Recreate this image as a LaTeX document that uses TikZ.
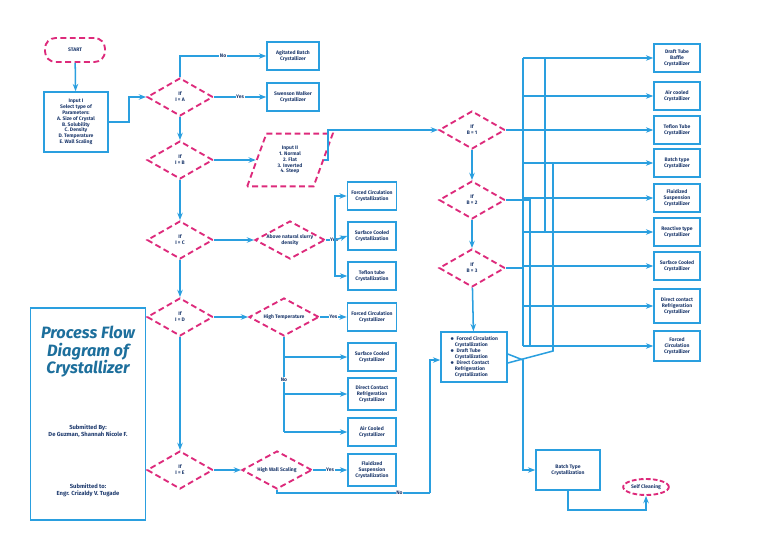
\documentclass[tikz,border=0pt]{standalone}
\usepackage{fontspec}
\setmainfont{Fira Sans}
\usetikzlibrary{shapes.geometric, arrows.meta, calc}
\definecolor{flowblue}{HTML}{2A9FDF}
\definecolor{flowpink}{HTML}{DD2A7B}
\definecolor{flowtext}{HTML}{1F3B6E}

\begin{document}
\begin{tikzpicture}[x=0.03cm, y=-0.03cm,
  box/.style={draw=flowblue, line width=1.3pt, fill=white, minimum width=#1*0.03cm,
    minimum height=28*0.03cm, align=center, font=\fontsize{4.3}{5}\selectfont\bfseries, text=flowtext},
  box/.default=48,
  dec/.style={diamond, aspect=1.8, draw=flowpink, dashed, dash pattern=on 5pt off 3pt, line width=1.6pt,
    inner sep=0pt, minimum width=66*0.03cm, minimum height=38*0.03cm, align=center,
    font=\fontsize{4.3}{5}\selectfont\bfseries, text=flowtext},
  conn/.style={-{Stealth[length=2.2mm]}, draw=flowblue, line width=1.3pt},
  line/.style={draw=flowblue, line width=1.3pt},
  lab/.style={font=\fontsize{4.3}{5}\selectfont\bfseries, text=flowtext, fill=white, inner sep=0.5pt}
]
\useasboundingbox (0,0) rectangle (768,543);

% left column
\node[draw=flowpink, dashed, dash pattern=on 5pt off 3pt, line width=1.6pt, rounded corners=9pt,
  minimum width=60*0.03cm, minimum height=24*0.03cm, font=\fontsize{4.3}{5}\selectfont\bfseries, text=flowtext] (start) at (75,50) {START};
\node[box=64, minimum height=60*0.03cm] (in1) at (76,122) {Input I\\Select type of\\Parameters:\\A. Size of Crystal\\B. Solubility\\C. Density\\D. Temperature\\E. Wall Scaling};
\node[dec] (ia) at (180,97) {If\\I = A};
\node[dec] (ib) at (180,160) {If\\I = B};
\node[dec] (ic) at (180,240) {If\\I = C};
\node[dec] (id) at (180,317) {If\\I = D};
\node[dec] (ie) at (180,470) {If\\I = E};

% I = A
\node[box=52] (agit) at (293,56) {Agitated Batch\\Crystallizer};
\node[box=52] (swen) at (293,97) {Swenson Walker\\Crystallizer};
% I = B
\node[trapezium, trapezium left angle=70, trapezium right angle=110, draw=flowpink, dashed,
  dash pattern=on 5pt off 3pt, line width=1.6pt, minimum width=86*0.03cm, minimum height=40*0.03cm,
  inner sep=1pt, align=center, font=\fontsize{4.3}{5}\selectfont\bfseries, text=flowtext] (in2) at (290,160)
  {Input II\\1. Normal\\2. Flat\\3. Inverted\\4. Steep};
% I = C
\node[dec, minimum width=70*0.03cm] (slurry) at (290,240) {Above natural slurry\\density};
\node[box] (c1) at (372,196) {Forced Circulation\\Crystallization};
\node[box] (c2) at (372,236) {Surface Cooled\\Crystallization};
\node[box] (c3) at (372,276) {Teflon tube\\Crystallization};
% I = D
\node[dec, minimum width=70*0.03cm] (temp) at (284,317) {High Temperature};
\node[box] (d1) at (372,317) {Forced Circulation\\Crystallizer};
\node[box] (d2) at (372,357) {Surface Cooled\\Crystallizer};
\node[box, minimum height=32*0.03cm] (d3) at (372,394) {Direct Contact\\Refrigeration\\Crystallizer};
\node[box] (d4) at (372,432) {Air Cooled\\Crystallizer};
% I = E
\node[dec, minimum width=70*0.03cm] (wall) at (277,470) {High Wall Scaling};
\node[box, minimum height=32*0.03cm] (e1) at (372,470) {Fluidized\\Suspension\\Crystallization};

% title panel
\node[draw=flowblue, line width=1.3pt, minimum width=115*0.03cm, minimum height=212*0.03cm] (title) at (88,414) {};
\node[font=\fontsize{14}{15}\selectfont\bfseries\itshape, text=flowblue!70!black, align=center] (ttl) at (88,352)
  {Process Flow\\Diagram of\\Crystallizer};
\node[font=\fontsize{5}{6.2}\selectfont\bfseries, text=flowtext, align=center] (sub1) at (88,431)
  {Submitted By:\\De Guzman, Shannah Nicole F.};
\node[font=\fontsize{5}{6.2}\selectfont\bfseries, text=flowtext, align=center] (sub2) at (88,490)
  {Submitted to:\\Engr. Crizaldy V. Tugade};

% B decisions
\node[dec] (b1) at (472,130) {If\\B = 1};
\node[dec] (b2) at (472,200) {If\\B = 2};
\node[dec] (b3) at (472,268) {If\\B = 3};
\node[box=66, minimum height=50*0.03cm, align=left] (list) at (474,357)
  {$\bullet$\ \ Forced Circulation\\\ \ \ \ Crystallization\\$\bullet$\ \ Draft Tube\\\ \ \ \ Crystallization\\$\bullet$\ \ Direct Contact\\\ \ \ \ Refrigeration\\\ \ \ \ Crystallization};

\node[box=46] (r1) at (677,58) {Draft Tube\\Baffle\\Crystallizer};
\node[box=46] (r2) at (677,96) {Air cooled\\Crystallizer};
\node[box=46] (r3) at (677,130) {Teflon Tube\\Crystallizer};
\node[box=46] (r4) at (677,163) {Batch type\\Crystallizer};
\node[box=46] (r5) at (677,198) {Fluidized\\Suspension\\Crystallizer};
\node[box=46] (r6) at (677,232) {Reactive type\\Crystallizer};
\node[box=46] (r7) at (677,266) {Surface Cooled\\Crystallizer};
\node[box=46, minimum height=34*0.03cm] (r8) at (677,306) {Direct contact\\Refrigeration\\Crystallizer};
\node[box=46, minimum height=30*0.03cm] (r9) at (677,346) {Forced\\Circulation\\Crystallizer};

\node[box=64, minimum height=40*0.03cm] (batch) at (568,470) {Batch Type\\Crystallization};
\node[ellipse, draw=flowpink, dashed, dash pattern=on 4pt off 2pt, line width=1.6pt, inner sep=1pt,
  minimum width=40*0.03cm, minimum height=16*0.03cm, font=\fontsize{4.3}{5}\selectfont\bfseries, text=flowtext] (clean) at (646,487) {Self Cleaning};

% connectors, left
\draw[conn] (start) -- (in1);
\draw[conn] (in1.east) -- ++(20,0) |- (ia.west);
\draw[conn] (ia.north) |- node[lab, pos=0.75] {No} (agit.west);
\draw[conn] (ia.east) -- node[lab] {Yes} (swen.west);
\draw[conn] (ia) -- (ib);
\draw[conn] (ib) -- (ic);
\draw[conn] (ic) -- (id);
\draw[conn] (id) -- (ie);
\draw[conn] (ib.east) -- (in2.west);
\draw[conn] (ic.east) -- (slurry.west);
\draw[line] (slurry.east) -- node[lab, pos=0.9] {Yes} (335,240);
\draw[conn] (335,240) |- (c1.west);
\draw[conn] (335,240) -- (c2.west);
\draw[conn] (335,240) |- (c3.west);
\draw[conn] (id.east) -- (temp.west);
\draw[conn] (temp.east) -- node[lab] {Yes} (d1.west);
\draw[line] (temp.south) -- node[lab, pos=0.45] {No} (284,432);
\draw[conn] (284,357) -- (d2.west);
\draw[conn] (284,394) -- (d3.west);
\draw[conn] (284,432) -- (d4.west);
\draw[conn] (ie.east) -- (wall.west);
\draw[conn] (wall.east) -- node[lab] {Yes} (e1.west);
\draw[line] (wall.south) |- node[lab, pos=0.9] {No} (430,493);
\draw[conn] (430,493) |- ([yshift=-3*0.03cm]list.west);

% connectors, right
\draw[conn] (in2.east) -- ++(4,0) |- (b1.west);
\draw[conn] (b1) -- (b2);
\draw[conn] (b2) -- (b3);
\draw[conn] (b3) -- (list);
\draw[line] (b1.east) -- (545,130);
\draw[line] (523,58) -- (523,346);
\draw[line] (545,58) -- (545,232);
\draw[line] (b2.east) -- (530,200) -- (530,346);
\draw[line] (b3.east) -- (523,268);
\draw[line] ([yshift=-6*0.03cm]list.east) -- (553,351) -- (553,163);
\foreach \r/\y in {r1/58, r2/96, r3/130, r4/163, r5/198, r6/232, r7/266, r8/306, r9/346}
  \draw[conn] (523,\y) -- (\r.west);
\draw[conn] ([yshift=3*0.03cm]list.east) -- (523,360) |- (batch.west);
\draw[conn] (batch.south) |- (646,510) -- (clean.south);
\end{tikzpicture}
\end{document}
